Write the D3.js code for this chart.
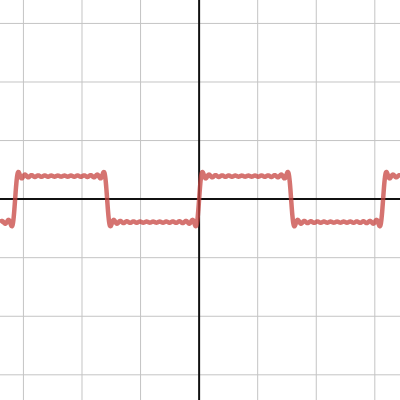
<!DOCTYPE html>
<html>
<head>
<script src="https://d3js.org/d3.v7.min.js"></script>
<style>body{margin:0;background:#fff}</style>
</head>
<body>
<script>
// grid lines (units)
var gridTicks = [-3, -2, -1, 1, 2, 3];
// Fourier square wave: odd harmonics and their coefficients
var harmonics = [1, 3, 5, 7, 9, 11, 13, 15, 17, 19, 21, 23, 25, 27];
var coefs = [1, 1/3, 1/5, 1/7, 1/9, 1/11, 1/13, 1/15, 1/17, 1/19, 1/21, 1/23, 1/25, 1/27];
var freq = 2, gain = 0.5;

var W = 400, H = 400;
var x = d3.scaleLinear().domain([-3.4, 3.43]).range([0, W]);
var y = d3.scaleLinear().domain([-3.43, 3.4]).range([H, 0]);

var svg = d3.select("body").append("svg").attr("width", W).attr("height", H);

svg.append("g").selectAll("line").data(gridTicks).enter().append("line")
  .attr("x1", function(d){return x(d);}).attr("x2", function(d){return x(d);})
  .attr("y1", 0).attr("y2", H).attr("stroke", "#c4c4c4").attr("stroke-width", 1);
svg.append("g").selectAll("line").data(gridTicks).enter().append("line")
  .attr("y1", function(d){return y(d);}).attr("y2", function(d){return y(d);})
  .attr("x1", 0).attr("x2", W).attr("stroke", "#c4c4c4").attr("stroke-width", 1);

svg.append("line").attr("x1", x(0)).attr("x2", x(0)).attr("y1", 0).attr("y2", H)
  .attr("stroke", "#111").attr("stroke-width", 2);
svg.append("line").attr("y1", y(0)).attr("y2", y(0)).attr("x1", 0).attr("x2", W)
  .attr("stroke", "#111").attr("stroke-width", 2);

var xs = d3.range(-3.4, 3.45, 0.003);
function f(t) {
  var s = 0;
  harmonics.forEach(function(h, i){ s += coefs[i] * Math.sin(h * freq * t); });
  return s * gain;
}
svg.append("path").datum(xs)
  .attr("d", d3.line().x(function(d){return x(d);}).y(function(d){return y(f(d));}))
  .attr("fill", "none").attr("stroke", "#c74440").attr("stroke-opacity", 0.75)
  .attr("stroke-width", 4.5).attr("stroke-linejoin", "round");
</script>
</body>
</html>
